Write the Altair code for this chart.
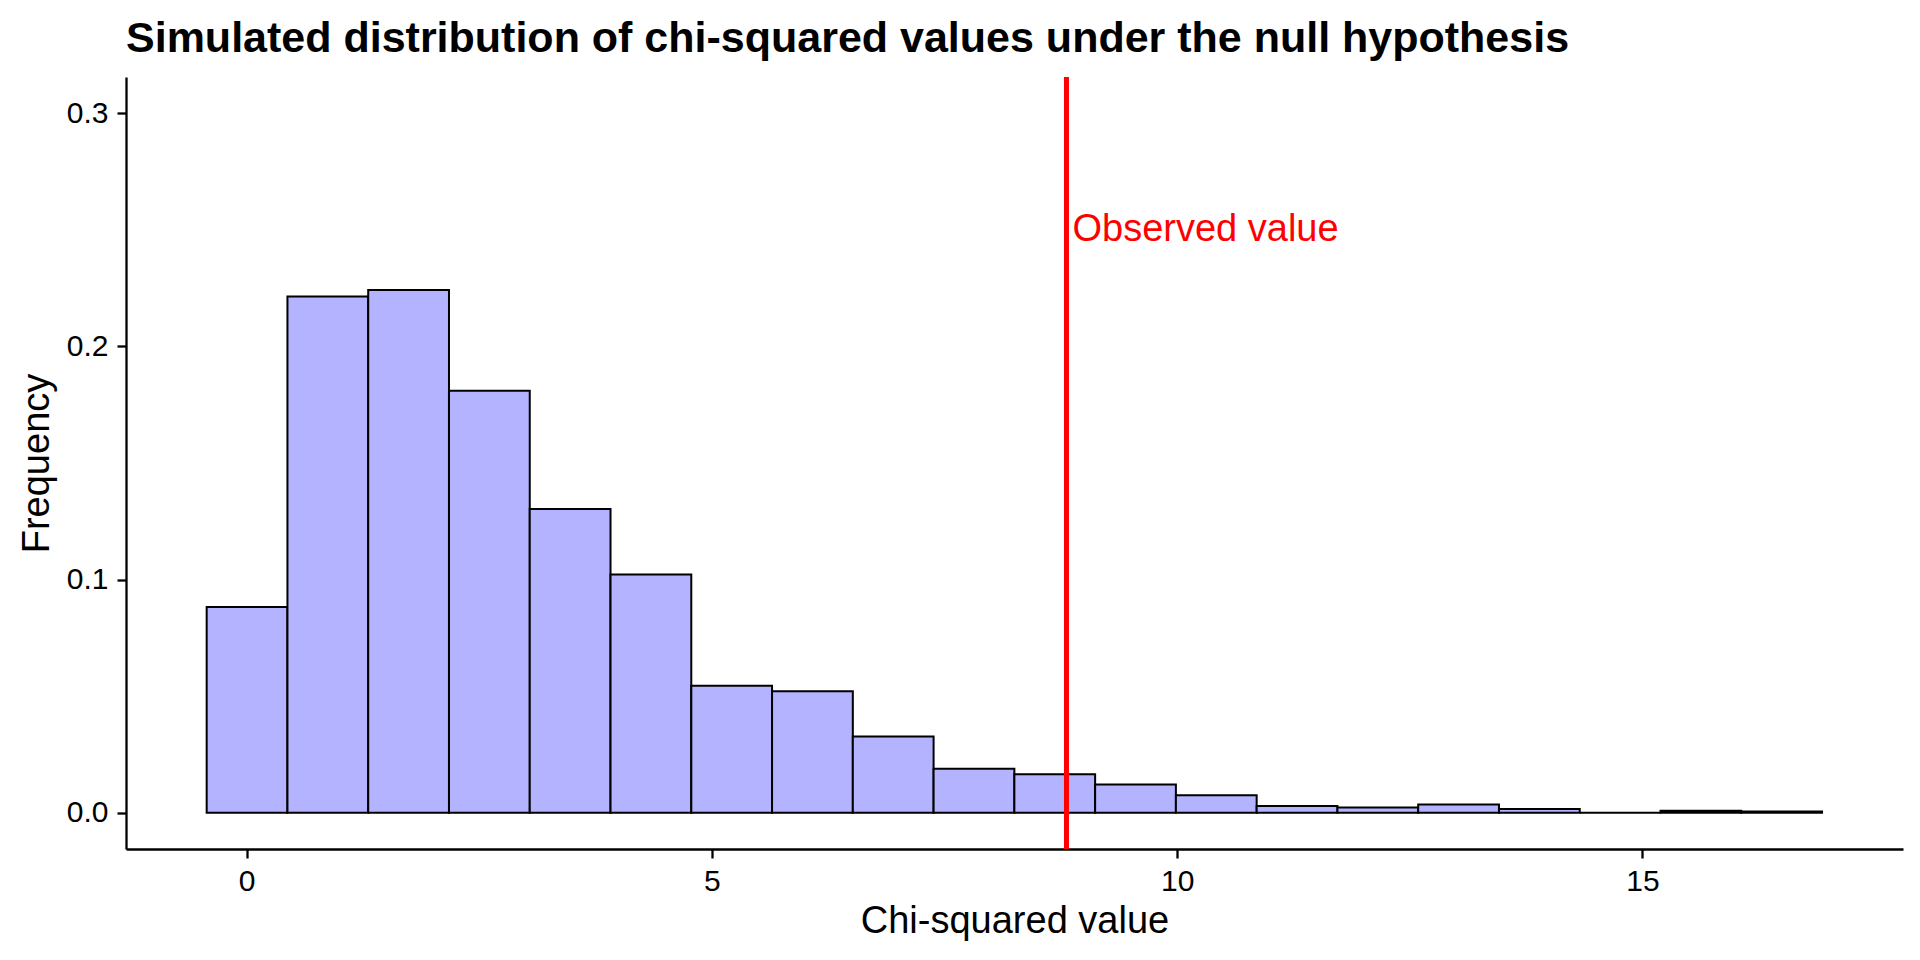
import altair as alt
import pandas as pd

# Histogram bins (bin edges on the chi-squared axis) and densities
bin_edges = [-0.430, 0.438, 1.306, 2.174, 3.042, 3.910, 4.778, 5.646, 6.514, 7.382,
             8.250, 9.118, 9.986, 10.854, 11.722, 12.590, 13.458, 14.326, 15.194, 16.062, 16.930]
freq = [0.0883, 0.2214, 0.2242, 0.1810, 0.1303, 0.1022, 0.0545, 0.0521, 0.0327, 0.0189,
        0.0165, 0.0122, 0.0075, 0.0029, 0.0023, 0.0036, 0.0017, 0.0000, 0.0009, 0.0006]
observed_value = [8.81]
label_y = [0.25]
label_text = ["Observed value"]
x_ticks = [0, 5, 10, 15]
y_ticks = [0.0, 0.1, 0.2, 0.3]

bars = pd.DataFrame({"x1": bin_edges[:-1], "x2": bin_edges[1:], "y": freq})
obs = pd.DataFrame({"x": observed_value, "y": label_y, "label": label_text})

FONT = "Liberation Sans"

xscale = alt.Scale(domain=[-1.297, 17.80], nice=False, zero=False)
yscale = alt.Scale(domain=[-0.0155, 0.3155], nice=False, zero=False)

hist = alt.Chart(bars).mark_rect(fill="#B3B3FF", stroke="black", strokeWidth=2).encode(
    x=alt.X("x1:Q", scale=xscale,
            axis=alt.Axis(title="Chi-squared value", values=x_ticks, format="d")),
    x2="x2:Q",
    y=alt.Y("y:Q", scale=yscale,
            axis=alt.Axis(title="Frequency", values=y_ticks, format=".1f")),
    y2=alt.datum(0),
)

rule = alt.Chart(obs).mark_rule(color="#FF0000", strokeWidth=5).encode(
    x=alt.X("x:Q", scale=xscale)
)

text = alt.Chart(obs).mark_text(
    align="left", baseline="middle", dx=6, color="#FF0000", fontSize=38, font=FONT
).encode(
    x=alt.X("x:Q", scale=xscale),
    y=alt.Y("y:Q", scale=yscale),
    text="label:N",
)

chart = alt.layer(hist, rule, text).properties(
    width=1777,
    height=772,
    title=alt.TitleParams(
        "Simulated distribution of chi-squared values under the null hypothesis",
        anchor="start", frame="group", font=FONT, fontSize=43, fontWeight="bold",
        color="black", offset=14,
    ),
    autosize=alt.AutoSizeParams(type="none"),
    padding={"left": 118, "top": 69, "right": 5, "bottom": 100},
).configure_view(stroke=None).configure_axis(
    grid=False,
    domainColor="black",
    domainWidth=2.3,
    tickColor="black",
    tickWidth=2.3,
    tickSize=9,
    labelFont=FONT,
    labelFontSize=30,
    labelColor="black",
    titleFont=FONT,
    titleFontSize=38,
    titleFontWeight="normal",
    titleColor="black",
).configure_axisY(titlePadding=10, labelPadding=9).configure_axisX(titlePadding=6, labelPadding=8)

chart.save("out.html", embed_options={"renderer": "svg", "actions": False})
